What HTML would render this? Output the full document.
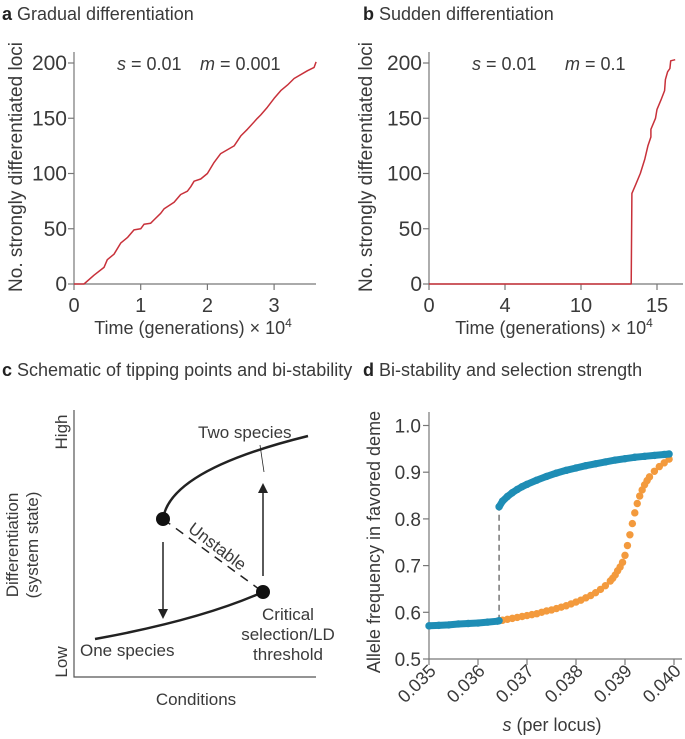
<!DOCTYPE html>
<html><head><meta charset="utf-8"><style>
body{margin:0;background:#fff;}
svg{display:block;font-family:"Liberation Sans",sans-serif;fill:#333;}
text{fill:#3a3a3a;}
</style></head><body>
<svg id="fig" width="685" height="739" viewBox="0 0 685 739">
<text x="2" y="20" font-size="18"><tspan font-weight="bold" fill="#222">a</tspan>  Gradual differentiation</text>
<text x="363" y="20" font-size="18"><tspan font-weight="bold" fill="#222">b</tspan>  Sudden differentiation</text>
<text x="2" y="376" font-size="18"><tspan font-weight="bold" fill="#222">c</tspan>  Schematic of tipping points and bi-stability</text>
<text x="363" y="376" font-size="18"><tspan font-weight="bold" fill="#222">d</tspan>  Bi-stability and selection strength</text>

<g id="pa"></g>
<g id="pb"></g>

<g stroke="#222" fill="none">
  <path d="M74 410 V677 H316" stroke="#555" stroke-width="1.2"/>
  <path d="M95 639 Q200 620 263 592" stroke-width="2.5"/>
  <path d="M163 519 Q170 470 308 436" stroke-width="2.5"/>
  <path d="M163 519 L263 592" stroke-width="1.5" stroke-dasharray="9,7"/>
  <path d="M163 542 V612" stroke-width="1.5"/>
  <path d="M158 609 L163 619 L168 609 Z" fill="#222" stroke="none"/>
  <path d="M263 576 V490" stroke-width="1.5"/>
  <path d="M258 493 L263 483 L268 493 Z" fill="#222" stroke="none"/>
  <path d="M260 445 L264 472" stroke-width="0.8"/>
  <circle cx="163" cy="519" r="7" fill="#111" stroke="none"/>
  <circle cx="263" cy="592" r="7" fill="#111" stroke="none"/>
</g>
<g font-size="17">
  <text x="198" y="438">Two species</text>
  <text x="80" y="656">One species</text>
  <text x="217" y="552" text-anchor="middle" transform="rotate(37 217 547)">Unstable</text>
  <text x="288" y="320" text-anchor="middle"><tspan x="288" y="620">Critical</tspan><tspan x="288" y="640">selection/LD</tspan><tspan x="288" y="660">threshold</tspan></text>
  <text x="196" y="705" text-anchor="middle">Conditions</text>
  <text transform="translate(67 432) rotate(-90)" text-anchor="middle">High</text>
  <text transform="translate(67 662) rotate(-90)" text-anchor="middle">Low</text>
  <text transform="translate(18 545) rotate(-90)" text-anchor="middle">Differentiation</text>
  <text transform="translate(38 545) rotate(-90)" text-anchor="middle">(system state)</text>
</g>

<g id="pd"></g>
</svg>
<script>
const NS="http://www.w3.org/2000/svg";
const aTime=[0,0.15,0.3,0.45,0.5,0.6,0.7,0.8,0.9,1.0,1.05,1.15,1.2,1.3,1.35,1.5,1.6,1.7,1.75,1.8,1.9,2.0,2.1,2.2,2.4,2.5,2.6,2.75,2.8,2.9,3.0,3.1,3.2,3.3,3.5,3.6,3.63];
const aLoci=[0,0,8,15,22,27,37,42,49,50,54,55,58,64,68,74,81,84,88,93,95,100,110,118,125,134,140,150,153,160,168,175,180,186,193,196,201];
const aXTicks=[0,1,2,3];
const yTicks=[0,50,100,150,200];
const bTime=[0,13.3,13.35,13.6,13.9,14.2,14.4,14.6,14.6,14.9,15.0,15.3,15.5,15.55,15.7,15.85,15.9,16.2];
const bLoci=[0,0,82,90,100,113,125,133,140,150,158,168,175,185,192,195,202,203];
const bXTicks=[0,4,10,15];
const dBlueLowS=[0.035,0.0352,0.0354,0.0356,0.0358,0.036,0.0362,0.0364,0.03643];
const dBlueLowY=[0.571,0.572,0.573,0.575,0.576,0.577,0.579,0.581,0.582];
const dBlueHighS=[0.03643,0.0365,0.0366,0.0367,0.0368,0.0369,0.037,0.0372,0.0374,0.0376,0.0378,0.038,0.0382,0.0384,0.0386,0.0388,0.039,0.0392,0.0394,0.0396,0.0398,0.0399];
const dBlueHighY=[0.826,0.838,0.848,0.856,0.863,0.869,0.874,0.883,0.891,0.898,0.904,0.909,0.914,0.918,0.922,0.926,0.929,0.932,0.934,0.936,0.938,0.939];
const dOrangeS=[0.03643,0.0365,0.0366,0.0367,0.0368,0.0369,0.037,0.0371,0.0372,0.0373,0.0374,0.0375,0.0376,0.0377,0.0378,0.0379,0.038,0.0381,0.0382,0.0383,0.0384,0.0385,0.0386,0.0387,0.03875,0.0388,0.03885,0.0389,0.03895,0.039,0.03905,0.0391,0.03915,0.0392,0.03925,0.0393,0.03935,0.0394,0.03945,0.0395,0.0396,0.0397,0.0398,0.0399];
const dOrangeY=[0.582,0.583,0.585,0.587,0.589,0.591,0.593,0.595,0.597,0.6,0.603,0.605,0.608,0.611,0.614,0.618,0.622,0.626,0.631,0.636,0.642,0.649,0.657,0.667,0.673,0.68,0.689,0.697,0.707,0.722,0.743,0.766,0.79,0.813,0.833,0.849,0.862,0.873,0.882,0.89,0.902,0.912,0.92,0.928];
const dYTicks=[0.5,0.6,0.7,0.8,0.9,1.0];
const dXTicks=[0.035,0.036,0.037,0.038,0.039,0.040];
const dJumpS=0.03643;

function mk(parent,tag,attrs){const e=document.createElementNS(NS,tag);for(const k in attrs)e.setAttribute(k,attrs[k]);parent.appendChild(e);return e;}
function txt(parent,x,y,s,attrs){const t=mk(parent,'text',Object.assign({x:x,y:y},attrs||{}));t.textContent=s;return t;}

function lociPanel(g,x0,xEnd,xScale,xTicks,time,loci,yTitleX,annS,annM,mLabel){
  const yS=v=>284-v*(221/200);
  const ax=mk(g,'path',{d:`M${x0} 52 V284 H${xEnd}`,stroke:'#777','stroke-width':1.2,fill:'none'});
  
  
  yTicks.forEach(v=>{
    const l=mk(g,'line',{x1:x0-6,x2:x0,y1:yS(v),y2:yS(v),stroke:'#777','stroke-width':1.2});
    
    
    const t=txt(g,x0-7,yS(v)+7,String(v),{'text-anchor':'end','font-size':21});
    
    
  });
  xTicks.forEach(v=>{
    const x=xScale(v);
    const l=mk(g,'line',{x1:x,x2:x,y1:284,y2:290,stroke:'#777','stroke-width':1.2});
    
    
    const t=txt(g,x,312,String(v),{'text-anchor':'middle','font-size':20});
    
    
  });
  const pts=time.map((t,i)=>xScale(t).toFixed(1)+','+yS(loci[i]).toFixed(1)).join(' ');
  const pl=mk(g,'polyline',{points:pts,fill:'none',stroke:'#c8313a','stroke-width':1.5,'stroke-linejoin':'round'});
  
  
  const xt=txt(g,(x0+xEnd)/2-2,334,'',{'text-anchor':'middle','font-size':18});
  xt.innerHTML='Time (generations) × 10<tspan dy="-7" font-size="12">4</tspan>';
  
  
  const yt=txt(g,0,0,'No. strongly differentiated loci',{'text-anchor':'middle','font-size':19,transform:`translate(${yTitleX} 167) rotate(-90)`});
  
  
  const a1=txt(g,annS,70,'',{'font-size':18});
  a1.innerHTML='<tspan font-style="italic">s</tspan> = 0.01';
  
  
  const a2=txt(g,annM,70,'',{'font-size':18});
  a2.innerHTML='<tspan font-style="italic">m</tspan> = '+mLabel;
  
  
}
lociPanel(document.getElementById('pa'),74,316,v=>74+v*66.7,aXTicks,aTime,aLoci,22,117,200,'0.001');
const bPos=[429,505,581,657];
function bScale(v){
  for(let i=0;i<bXTicks.length-1;i++){if(v<=bXTicks[i+1])return bPos[i]+(v-bXTicks[i])/(bXTicks[i+1]-bXTicks[i])*(bPos[i+1]-bPos[i]);}
  const n=bXTicks.length-1;return bPos[n]+(v-bXTicks[n])*(bPos[n]-bPos[n-1])/(bXTicks[n]-bXTicks[n-1]);
}
lociPanel(document.getElementById('pb'),429,683,bScale,bXTicks,bTime,bLoci,372,472,565,'0.1');

(function(){
  const g=document.getElementById('pd');
  const xS=s=>429+(s-0.035)*49000;
  const yS=v=>659-(v-0.5)*467;
  const ax=mk(g,'path',{d:`M429 412 V659 H682`,stroke:'#777','stroke-width':1.2,fill:'none'});
  
  
  dYTicks.forEach(v=>{
    const l=mk(g,'line',{x1:423,x2:429,y1:yS(v),y2:yS(v),stroke:'#777','stroke-width':1.2});
    
    
    const t=txt(g,421,yS(v)+7,v.toFixed(1),{'text-anchor':'end','font-size':19});
    
    
  });
  dXTicks.forEach(v=>{
    const x=xS(v);
    const l=mk(g,'line',{x1:x,x2:x,y1:659,y2:665,stroke:'#777','stroke-width':1.2});
    
    
    const t=txt(g,0,0,v.toFixed(3),{'text-anchor':'end','font-size':18,transform:`translate(${x+8} 672) rotate(-45)`});
    
    
  });
  const dl=mk(g,'line',{x1:xS(dJumpS),x2:xS(dJumpS),y1:yS(dBlueLowY[dBlueLowY.length-1]),y2:yS(dBlueHighY[0]),stroke:'#555','stroke-width':1.2,'stroke-dasharray':'6,4'});
  
  
  function series(S,Y,color,name,line){
    if(line){
      const p=mk(g,'polyline',{points:S.map((s,i)=>xS(s).toFixed(1)+','+yS(Y[i]).toFixed(1)).join(' '),fill:'none',stroke:color,'stroke-width':7,'stroke-linecap':'round','stroke-linejoin':'round'});
      
      
    }
    S.forEach((s,i)=>{
      const c=mk(g,'circle',{cx:xS(s),cy:yS(Y[i]),r:3.7,fill:color});
      
      
    });
  }
  series(dOrangeS,dOrangeY,'#f39a3d','orange-branch',false);
  series(dBlueLowS,dBlueLowY,'#1e8db5','blue-lower-branch',true);
  series(dBlueHighS,dBlueHighY,'#1e8db5','blue-upper-branch',true);
  const xt=txt(g,552,731,'',{'text-anchor':'middle','font-size':18});
  xt.innerHTML='<tspan font-style="italic">s</tspan> (per locus)';
  
  
  const yt=txt(g,0,0,'Allele frequency in favored deme',{'text-anchor':'middle','font-size':18,transform:'translate(380 542) rotate(-90)'});
  
  
})();
</script>
</body></html>
